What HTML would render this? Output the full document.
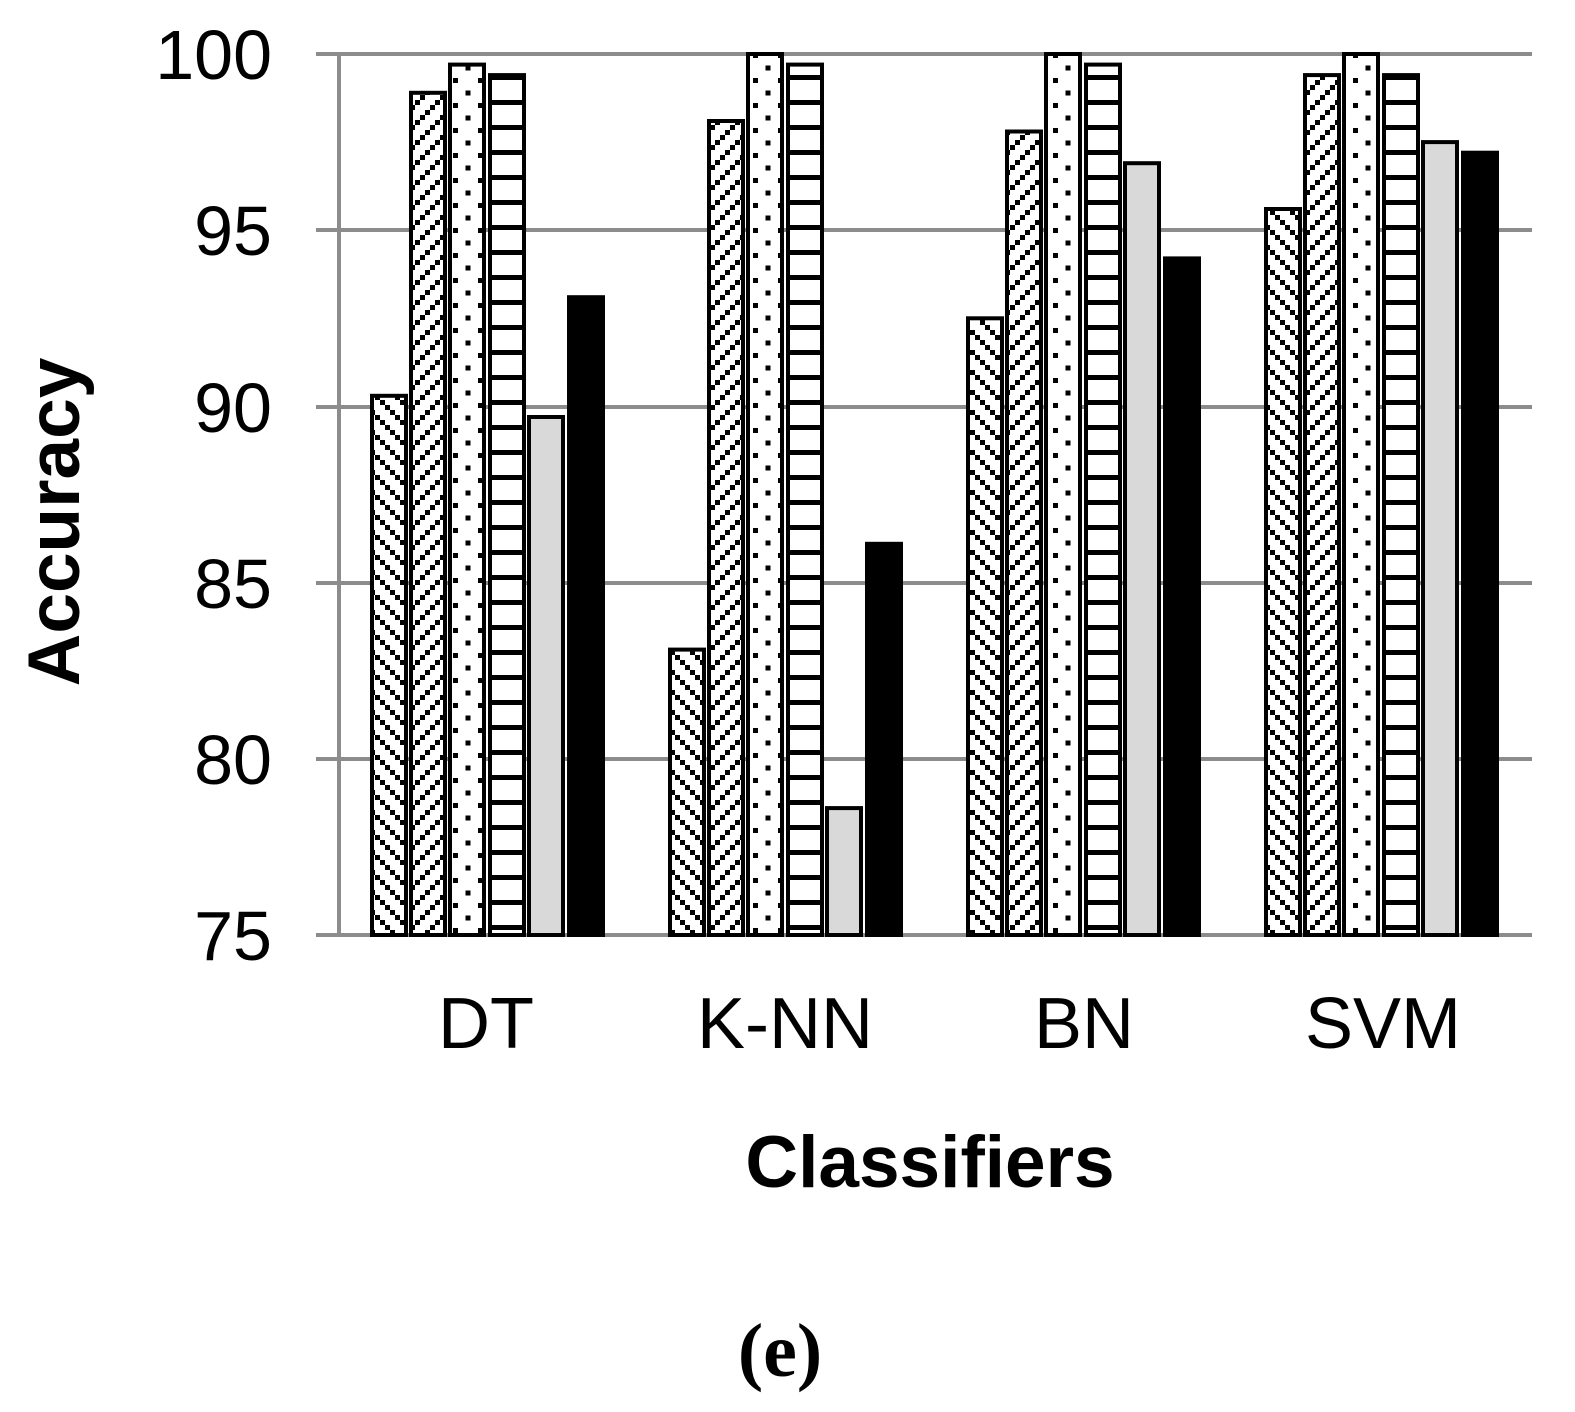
<!DOCTYPE html>
<html><head><meta charset="utf-8"><style>
html,body{margin:0;padding:0;background:#fff;}
svg{display:block;}
text{font-family:"Liberation Sans",Arial,sans-serif;fill:#000;}
</style></head><body>
<svg width="1575" height="1412" viewBox="0 0 1575 1412" xmlns="http://www.w3.org/2000/svg">
<defs>
<pattern id="p1" width="20" height="20" patternUnits="userSpaceOnUse">
<rect width="20" height="20" fill="#fff"/>
<rect x="0" y="0" width="5" height="5" fill="#000"/><rect x="5" y="5" width="5" height="5" fill="#000"/><rect x="10" y="10" width="5" height="5" fill="#000"/><rect x="15" y="15" width="5" height="5" fill="#000"/>
</pattern>
<pattern id="p2" width="20" height="20" patternUnits="userSpaceOnUse">
<rect width="20" height="20" fill="#fff"/>
<rect x="15" y="0" width="5" height="5" fill="#000"/><rect x="10" y="5" width="5" height="5" fill="#000"/><rect x="5" y="10" width="5" height="5" fill="#000"/><rect x="0" y="15" width="5" height="5" fill="#000"/>
</pattern>
<pattern id="p3" width="25" height="25" patternUnits="userSpaceOnUse">
<rect width="25" height="25" fill="#fff"/>
<rect x="3" y="3" width="5" height="5" fill="#000"/><rect x="15.5" y="15.5" width="5" height="5" fill="#000"/>
</pattern>
<pattern id="p4" width="25" height="25" patternUnits="userSpaceOnUse">
<rect width="25" height="25" fill="#fff"/>
<rect x="0" y="0" width="25" height="5" fill="#000"/>
</pattern>
</defs>
<g stroke="#8c8c8c" stroke-width="4">
<line x1="316" y1="54" x2="1532" y2="54"/>
<line x1="316" y1="230" x2="1532" y2="230"/>
<line x1="316" y1="407" x2="1532" y2="407"/>
<line x1="316" y1="583" x2="1532" y2="583"/>
<line x1="316" y1="759" x2="1532" y2="759"/>
<line x1="316" y1="935" x2="1532" y2="935"/>
<line x1="339" y1="54" x2="339" y2="935"/>
</g>
<g font-size="70" text-anchor="end">
<text x="272" y="79">100</text>
<text x="272" y="255">95</text>
<text x="272" y="432">90</text>
<text x="272" y="608">85</text>
<text x="272" y="784">80</text>
<text x="272" y="960">75</text>
</g>
<g stroke="#000" stroke-width="4">
<rect x="372" y="395.8" width="34" height="539.2" fill="url(#p1)"/>
<rect x="411" y="92.8" width="34" height="842.2" fill="url(#p2)"/>
<rect x="450" y="64.6" width="34" height="870.4" fill="url(#p3)"/>
<rect x="490" y="75.1" width="34" height="859.9" fill="url(#p4)"/>
<rect x="529" y="417" width="34" height="518" fill="#d9d9d9"/>
<rect x="569" y="297.2" width="34" height="637.8" fill="#000"/>
<rect x="670" y="649.6" width="34" height="285.4" fill="url(#p1)"/>
<rect x="709" y="121" width="34" height="814" fill="url(#p2)"/>
<rect x="748" y="54" width="34" height="881" fill="url(#p3)"/>
<rect x="788" y="64.6" width="34" height="870.4" fill="url(#p4)"/>
<rect x="827" y="808.1" width="34" height="126.9" fill="#d9d9d9"/>
<rect x="867" y="543.8" width="34" height="391.2" fill="#000"/>
<rect x="968" y="318.3" width="34" height="616.7" fill="url(#p1)"/>
<rect x="1007" y="131.5" width="34" height="803.5" fill="url(#p2)"/>
<rect x="1046" y="54" width="34" height="881" fill="url(#p3)"/>
<rect x="1086" y="64.6" width="34" height="870.4" fill="url(#p4)"/>
<rect x="1125" y="163.2" width="34" height="771.8" fill="#d9d9d9"/>
<rect x="1165" y="258.4" width="34" height="676.6" fill="#000"/>
<rect x="1266" y="209" width="34" height="726" fill="url(#p1)"/>
<rect x="1305" y="75.1" width="34" height="859.9" fill="url(#p2)"/>
<rect x="1344" y="54" width="34" height="881" fill="url(#p3)"/>
<rect x="1384" y="75.1" width="34" height="859.9" fill="url(#p4)"/>
<rect x="1423" y="142.1" width="34" height="792.9" fill="#d9d9d9"/>
<rect x="1463" y="152.7" width="34" height="782.3" fill="#000"/>
</g>
<g font-size="72" text-anchor="middle">
<text x="486" y="1048">DT</text>
<text x="785" y="1048">K-NN</text>
<text x="1084" y="1048">BN</text>
<text x="1383" y="1048">SVM</text>
</g>
<text x="930" y="1187" font-size="73" font-weight="bold" text-anchor="middle">Classifiers</text>
<text transform="translate(79,522) rotate(-90)" font-size="73" font-weight="bold" text-anchor="middle">Accuracy</text>
<text x="780" y="1376" font-size="76" font-weight="bold" text-anchor="middle" style="font-family:'Liberation Serif',serif">(e)</text>
</svg>
</body></html>
